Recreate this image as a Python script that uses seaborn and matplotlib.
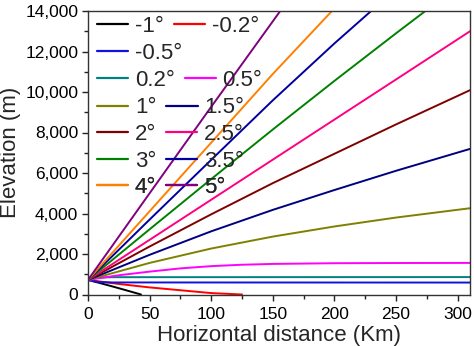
import matplotlib
matplotlib.use("Agg")
import matplotlib.pyplot as plt
from matplotlib.lines import Line2D
from matplotlib.ticker import MultipleLocator, FuncFormatter
import seaborn as sns
import pandas as pd

# ---- data (distance km, elevation m) ----
angle_labels = ["-1°", "-0.2°", "-0.5°", "0.2°", "0.5°", "1°", "1.5°",
                "2°", "2.5°", "3°", "3.5°", "4°", "5°"]
colors = ["#000000", "#ff0000", "#1010e0", "#008080", "#ff00ff", "#808000",
          "#000080", "#800000", "#ff0080", "#008000", "#0000a0", "#ff8000",
          "#800080"]

dist_m1 = [0, 10, 20, 30, 43]
elev_m1 = [720, 560, 395, 225, 0]
dist_m02 = [0, 25, 50, 75, 100, 125]
elev_m02 = [720, 520, 350, 210, 70, 0]
dist_m05 = [0, 5, 10, 20, 310]
elev_m05 = [720, 650, 610, 595, 590]
dist_p02 = [0, 5, 10, 20, 310]
elev_p02 = [720, 800, 840, 855, 860]
dist_p05 = [0, 25, 50, 75, 100, 125, 150, 200, 250, 310]
elev_p05 = [720, 950, 1130, 1290, 1400, 1470, 1510, 1545, 1555, 1560]
dist_p1 = [0, 50, 100, 150, 200, 250, 310]
elev_p1 = [720, 1560, 2270, 2860, 3360, 3800, 4260]
dist_p15 = [0, 50, 100, 150, 200, 250, 310]
elev_p15 = [720, 1960, 3120, 4180, 5160, 6110, 7190]
dist_p2 = [0, 50, 100, 150, 200, 250, 310]
elev_p2 = [720, 2370, 3960, 5500, 6950, 8400, 10090]
dist_p25 = [0, 50, 100, 150, 200, 250, 310]
elev_p25 = [720, 2700, 4680, 6660, 8640, 10620, 13000]
dist_p3 = [0, 50, 100, 150, 200, 250, 290]
elev_p3 = [720, 3220, 5700, 8150, 10550, 12900, 14750]
dist_p35 = [0, 50, 100, 150, 200, 240]
elev_p35 = [720, 3700, 6650, 9590, 12400, 14550]
dist_p4 = [0, 50, 100, 150, 210]
elev_p4 = [720, 4110, 7500, 10890, 14780]
dist_p5 = [0, 50, 100, 156, 165]
elev_p5 = [720, 5000, 9270, 14000, 14760]

series = [(dist_m1, elev_m1), (dist_m02, elev_m02), (dist_m05, elev_m05),
          (dist_p02, elev_p02), (dist_p05, elev_p05), (dist_p1, elev_p1),
          (dist_p15, elev_p15), (dist_p2, elev_p2), (dist_p25, elev_p25),
          (dist_p3, elev_p3), (dist_p35, elev_p35), (dist_p4, elev_p4),
          (dist_p5, elev_p5)]

rows = []
for lab, (xs, ys) in zip(angle_labels, series):
    for x, y in zip(xs, ys):
        rows.append({"angle": lab, "dist": x, "elev": y})
df = pd.DataFrame(rows)
palette = dict(zip(angle_labels, colors))

sns.set_style("ticks")
plt.rcParams["font.family"] = ["Liberation Sans", "DejaVu Sans"]

fig = plt.figure(figsize=(4.74, 3.46), dpi=100)
ax = fig.add_axes([88 / 474, 1 - 294.5 / 346, 382 / 474, 283.5 / 346])

sns.lineplot(data=df, x="dist", y="elev", hue="angle", hue_order=angle_labels,
             palette=palette, legend=False, ax=ax, linewidth=1.4, sort=False,
             estimator=None)

ax.set_xlim(0, 310)
ax.set_ylim(0, 14000)
ax.xaxis.set_major_locator(MultipleLocator(50))
ax.xaxis.set_minor_locator(MultipleLocator(25))
ax.yaxis.set_major_locator(MultipleLocator(2000))
ax.yaxis.set_minor_locator(MultipleLocator(1000))
ax.yaxis.set_major_formatter(FuncFormatter(lambda v, p: f"{v:,.0f}"))
ax.tick_params(which="major", direction="out", length=4, width=1,
               labelsize=12.5, colors="#222222", pad=3)
ax.tick_params(which="minor", direction="out", length=3, width=1,
               colors="#222222")
ax.tick_params(axis="x", which="major", pad=5)
ax.tick_params(labelcolor="black")
for s in ax.spines.values():
    s.set_color("#333333")
    s.set_linewidth(1)
ax.set_xlabel("Horizontal distance (Km)", fontsize=16, labelpad=2)
ax.set_ylabel("Elevation (m)", fontsize=16, labelpad=3)

# legend laid out row by row like the original
handles = {lab: Line2D([], [], color=c, lw=1.6) for lab, c in palette.items()}
legend_rows = [["-1°", "-0.2°"], ["-0.5°"], ["0.2°", "0.5°"], ["1°", "1.5°"],
               ["2°", "2.5°"], ["3°", "3.5°"], ["4°", "5°"]]
row_y = [0.946, 0.850, 0.755, 0.658, 0.565, 0.470, 0.377]
for labs, yy in zip(legend_rows, row_y):
    leg = ax.legend([handles[l] for l in labs], labs, ncol=len(labs),
                    loc="center left", bbox_to_anchor=(0.024, yy),
                    frameon=False, fontsize=16, borderpad=0, borderaxespad=0,
                    handlelength=1.4, handletextpad=0.3, columnspacing=0.45)
    ax.add_artist(leg)

fig.savefig("out.png", dpi=100)
